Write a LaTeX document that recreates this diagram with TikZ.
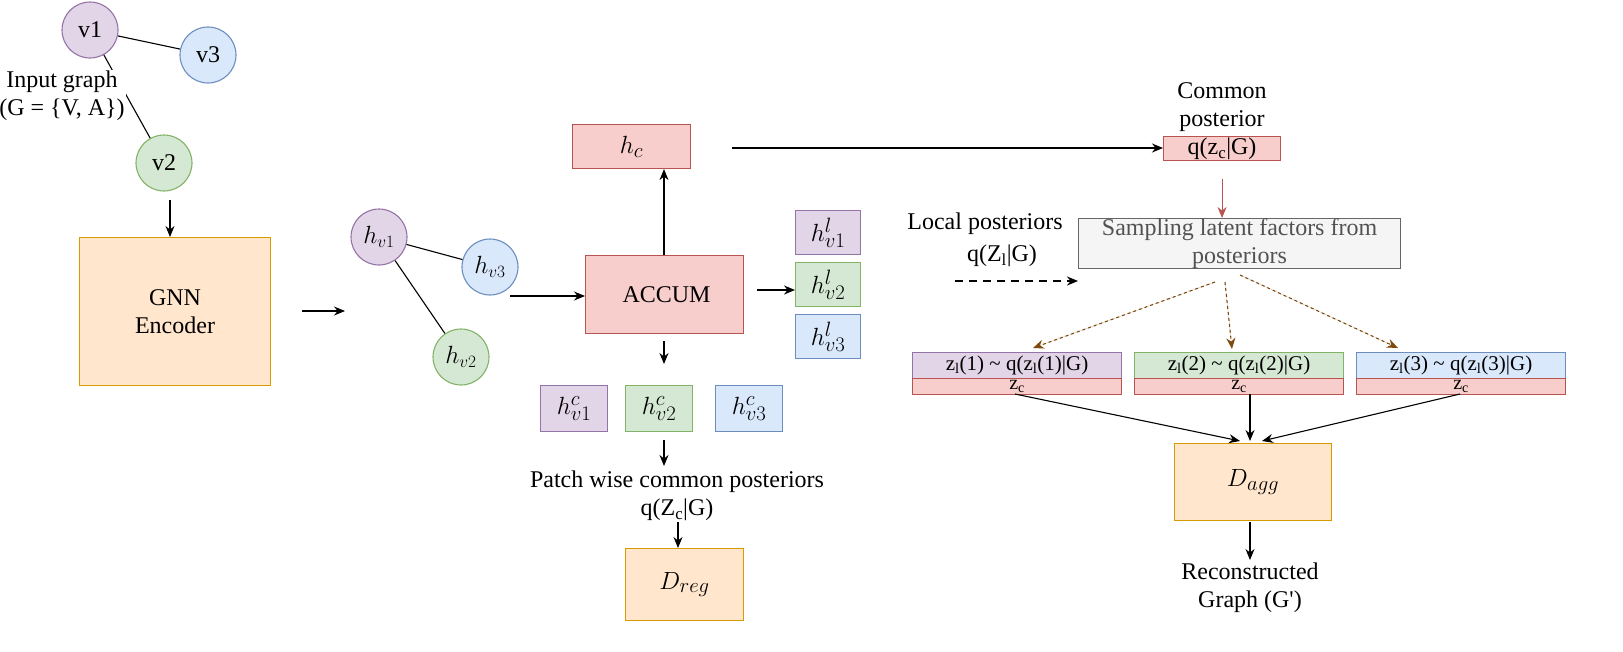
\documentclass[tikz,border=0pt]{standalone}
\usepackage{fontspec}
\setmainfont{Liberation Serif}
\usetikzlibrary{arrows.meta}
\definecolor{pF}{HTML}{E1D5E7}\definecolor{pS}{HTML}{9673A6}
\definecolor{bF}{HTML}{DAE8FC}\definecolor{bS}{HTML}{6C8EBF}
\definecolor{gF}{HTML}{D5E8D4}\definecolor{gS}{HTML}{82B366}
\definecolor{rF}{HTML}{F8CECC}\definecolor{rS}{HTML}{B85450}
\definecolor{oF}{HTML}{FFE6CC}\definecolor{oS}{HTML}{D79B00}
\definecolor{yF}{HTML}{F5F5F5}\definecolor{yS}{HTML}{666666}
\definecolor{brn}{HTML}{7F4A0F}
\begin{document}
\begin{tikzpicture}[x=1pt,y=-1pt,line width=1.1pt,
  every node/.style={font=\fontsize{24}{28}\selectfont},
  circ/.style={circle,draw=#1S,fill=#1F,minimum size=56pt,inner sep=0pt},
  box/.style={draw=#1S,fill=#1F,inner sep=0pt,anchor=north west,align=center},
  arr/.style={-{Stealth[length=11pt,width=9pt]},line width=1.1pt},
  mth/.style={font=\fontsize{30}{32}\selectfont},
  txt/.style={align=center,inner sep=0pt}]
\useasboundingbox (0,0) rectangle (1623,651);
% input graph
\node[circ=p] (v1) at (90,30) {v1};
\node[circ=b] (v3) at (208,55) {v3};
\node[circ=g] (v2) at (164,163) {v2};
\draw (v1)--(v3) (v1)--(v2);
\node[txt,fill=white,inner sep=1pt] (ig) at (62,96) {Input graph\\(G = \{V, A\})};
\node[box=o,minimum width=191pt,minimum height=148pt] (gnn) at (79,237) {GNN\\Encoder};
\coordinate (a1) at (170,200);
\draw[arr] (a1) -- (gnn.north -| a1);
% hidden graph
\node[circ=p] (h1) at (379,237) {$h_{v1}$};
\node[circ=b] (h3) at (490,267) {$h_{v3}$};
\node[circ=g] (h2) at (461,357) {$h_{v2}$};
\draw (h1)--(h3) (h1)--(h2);
\coordinate (e1) at (302,311); \coordinate (e2) at (345,311);
\draw[arr] (e1)--(e2);
% accum
\node[box=r,minimum width=158pt,minimum height=78pt,text width=140pt,align=left] (acc) at (585,255) {\hspace*{28pt}ACCUM};
\coordinate (e3) at (510,296);
\draw[arr] (e3)--(acc.west |- e3);
\node[box=r,mth,minimum width=118pt,minimum height=44pt] (hc) at (572,124) {$h_c$};
\draw[arr] (664,255) coordinate (t1) -- (t1 |- hc.south);
% local h
\foreach \c/\y/\i in {p/210/1,g/262/2,b/314/3}{
  \node[box=\c,mth,minimum width=65pt,minimum height=44pt] (hl\i) at (795,\y) {$h^l_{v\i}$};}
\coordinate (e4) at (757,290);
\draw[arr] (e4) -- (e4 -| hl2.west);
% common h
\foreach \c/\x/\i in {p/540/1,g/625/2,b/715/3}{
  \node[box=\c,mth,minimum width=67pt,minimum height=46pt] (hcc\i) at (\x,385) {$h^c_{v\i}$};}
\coordinate (e5) at (664,341); \coordinate (e6) at (664,364);
\draw[arr] (e5)--(e6);
\coordinate (e7) at (664,440); \coordinate (e8) at (664,466);
\draw[arr] (e7)--(e8);
\node[txt] (pw) at (677,496) {Patch wise common posteriors\\q(Z\textsubscript{c}|G)};
\node[box=o,mth,minimum width=118pt,minimum height=72pt] (dreg) at (625,548) {$D_{reg}$};
\coordinate (e9) at (678,522);
\draw[arr] (e9)--(e9 |- dreg.north);
% right part
\node[txt] (cp) at (1222,107) {Common\\posterior};
\node[box=r,minimum width=117pt,minimum height=24pt] (qzc) at (1163,136) {q(z\textsubscript{c}|G)};
\coordinate (e10) at (732,148);
\draw[arr] (e10)--(e10 -| qzc.west);
\node[box=y,text=yS!80!black,minimum width=322pt,minimum height=50pt] (samp) at (1078,218) {Sampling latent factors from\\posteriors};
\draw[arr,draw=rS,fill=rS] (qzc.south) ++(0,18) coordinate (e11) -- (e11 |- samp.north);
\node[txt] (lp) at (985,224) {Local posteriors};
\node[txt] (lq) at (1002,256) {q(Z\textsubscript{l}|G)};
\coordinate (e12) at (955,281);
\draw[arr,line width=2.2pt,dash pattern=on 8pt off 6pt] (e12)--(e12 -| samp.west);
\foreach \c/\x/\i in {p/912/1,g/1134/2,b/1356/3}{
  \node[box=\c,minimum width=209pt,minimum height=26pt,font=\fontsize{21}{24}\selectfont] (zt\i) at (\x,352) {z\textsubscript{l}(\i) \textasciitilde{} q(z\textsubscript{l}(\i)|G)};
  \node[box=r,minimum width=209pt,minimum height=16pt,font=\fontsize{20}{20}\selectfont] (zb\i) at (\x,378) {\raisebox{2pt}{z\textsubscript{c}}};}
\tikzset{dar/.style={draw=brn,dashed,line width=1.1pt,-{Stealth[length=11pt,width=9pt]},fill=brn}}
\coordinate (s1) at (1215,282); \coordinate (s2) at (1225,282); \coordinate (s3) at (1240,275);
\draw[dar] (s1)--(1033,348);
\draw[dar] (s2)--(1232,349);
\draw[dar] (s3)--(1398,348);
\node[box=o,mth,minimum width=157pt,minimum height=77pt] (dagg) at (1174,443) {$D_{agg}$};
\coordinate (c1) at (1015,394); \coordinate (c2) at (1250,394); \coordinate (c3) at (1460,394);
\coordinate (m1) at (1240,441); \coordinate (m2) at (1250,441); \coordinate (m3) at (1262,441);
\draw[arr] (c1)--(m1); \draw[arr] (c2)--(m2); \draw[arr] (c3)--(m3);
\node[txt] (rg) at (1250,588) {Reconstructed\\Graph (G\textquotesingle)};
\coordinate (c4) at (1250,522);
\draw[arr] (c4)--(1250,560);
\end{tikzpicture}
\end{document}
